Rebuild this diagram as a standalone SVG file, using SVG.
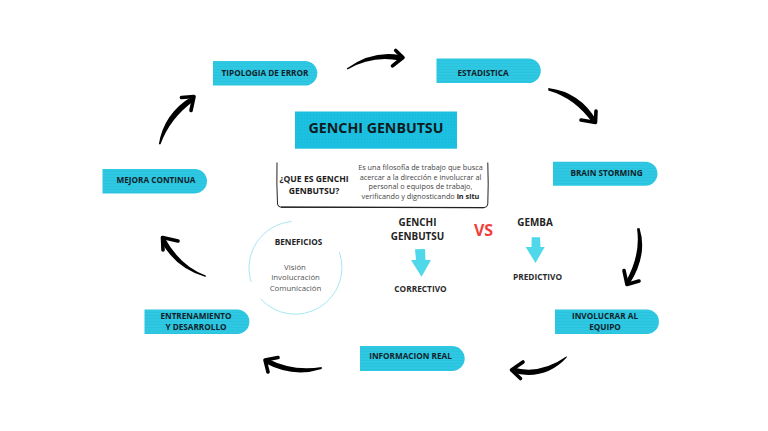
<svg xmlns="http://www.w3.org/2000/svg" width="768" height="431" viewBox="0 0 768 431">
<style>
text{font-family:"Open Sans","Liberation Sans",sans-serif;text-anchor:middle}
.lb{font-weight:700;font-size:8.2px;fill:#10222a}
.hd{font-weight:700;font-size:9.9px;fill:#222}
.sm{font-weight:700;font-size:8.3px;fill:#2a2a2a}
.bd{font-size:7.3px;fill:#444}
.bn{font-size:7.8px;fill:#555}
.pill{fill:url(#stripes)}
.sh{fill:#000}
.ah{fill:none;stroke:#000;stroke-width:3.6;stroke-linecap:round;stroke-linejoin:round}
.dn{fill:#4fd8ea}
</style>
<defs>
<pattern id="stripes" width="4" height="3" patternUnits="userSpaceOnUse"><rect width="4" height="3" fill="#2ec8e2"/><rect width="4" height="1" fill="#2ac2dc"/></pattern>
<pattern id="dots" width="3" height="3" patternUnits="userSpaceOnUse"><rect width="3" height="3" fill="#1cc0e0"/><circle cx="1.5" cy="1.5" r=".7" fill="#18b8d8"/></pattern>
</defs>
<rect width="768" height="431" fill="#fff"/>
<g id="connectors">
<path class="sh" d="M346.7 68.5Q372 50 400 55L400 60.5Q372 55 347.5 69.5Z"/><path class="ah" d="M395.7 50.5L403 57.5L392.5 65.8"/>
<path class="sh" d="M548.3 88Q580 92 596.5 120.5L593 123.5Q575 98 548.3 90.5Z"/><path class="ah" d="M596 111L595.5 122.5L581 120"/>
<path class="sh" d="M637 228.5L639.5 228Q648 255 629.5 284L625.5 282Q641 255 637 228.5Z"/><path class="ah" d="M624 270.5L627 284.5L639 281"/>
<path class="sh" d="M566.7 356.3Q540 375 513 367.5L512 372.8Q545 381 566.7 357.5Z"/><path class="ah" d="M523 362L511.5 370L520.5 378.5"/>
<path class="sh" d="M321.7 367Q293 372 266 358L265 363Q293 378 321.7 369Z"/><path class="ah" d="M278 357.5L265 360L268 372"/>
<path class="sh" d="M205.7 275.5Q180 266 164.5 237.5L161 241Q175 268 205.7 277Z"/><path class="ah" d="M178 241L162.5 237.5L163 250"/>
<path class="sh" d="M158.8 144.3Q164 113 192 96.5L194.5 100.5Q170 118 160.5 144.3Z"/><path class="ah" d="M181.5 97.5L194 96.5L191 110.5"/>
</g>
<g id="tipologia"><path class="pill" d="M213 61H305A12.3 12.3 0 0 1 305 85.6H213Z"/><text class="lb" x="265" y="75.8">TIPOLOGIA DE ERROR</text></g>
<g id="estadistica"><path class="pill" d="M436.5 58.5H528.5A12.3 12.3 0 0 1 528.5 83.1H436.5Z"/><text class="lb" x="483" y="75.6">ESTADISTICA</text></g>
<g id="brain"><path class="pill" d="M553 161.7H645.5A12 12 0 0 1 645.5 185.7H553Z"/><text class="lb" x="606.5" y="176.4">BRAIN STORMING</text></g>
<g id="involucrar"><path class="pill" d="M555 309.5H647.8A12.3 12.3 0 0 1 647.8 334H555Z"/><text class="lb" x="605" y="319.2">INVOLUCRAR AL</text><text class="lb" x="605" y="330">EQUIPO</text></g>
<g id="informacion"><path class="pill" d="M360 346H452.2A12.5 12.5 0 0 1 452.2 371H360Z"/><text class="lb" x="410.5" y="359.4">INFORMACION REAL</text></g>
<g id="entrenamiento"><path class="pill" d="M144.5 309.5H238.2A12.3 12.3 0 0 1 238.2 334H144.5Z"/><text class="lb" x="196" y="319">ENTRENAMIENTO</text><text class="lb" x="196" y="330">Y DESARROLLO</text></g>
<g id="mejora"><path class="pill" d="M102.5 169H194.8A12.2 12.2 0 0 1 194.8 193.4H102.5Z"/><text class="lb" x="156" y="183.2">MEJORA CONTINUA</text></g>
<g id="title"><rect x="295" y="111.5" width="162" height="37.2" fill="url(#dots)"/><text x="376" y="133" font-size="14.2" font-weight="700" fill="#0e1a20">GENCHI GENBUTSU</text></g>
<g id="definition">
<path d="M277 162.5Q276.5 185 277.5 204Q278 207 281 207.2L484 207.6Q487.5 207.5 487.8 204Q488.6 185 487.8 162.5" fill="none" stroke="#222" stroke-width="1"/>
<path d="M281 207.2L484 207.6" fill="none" stroke="#222" stroke-width="1.3"/>
<text x="314" y="181.5" font-size="8.6" font-weight="700" fill="#222">¿QUE ES GENCHI</text>
<text x="314" y="193.5" font-size="8.6" font-weight="700" fill="#222">GENBUTSU?</text>
<text class="bd" x="420.5" y="170.4">Es una filosofía de trabajo que busca</text>
<text class="bd" x="420.5" y="179.7">acercar a la dirección e involucrar al</text>
<text class="bd" x="420.5" y="189.2">personal o equipos de trabajo,</text>
<text class="bd" x="420.5" y="199.2">verificando y dignosticando <tspan font-weight="700" fill="#222">in situ</tspan></text>
</g>
<g id="beneficios">
<path d="M291.7 221.5A46.7 46.7 0 0 0 251.1 281.8M260.8 299A46.7 46.7 0 0 0 339.2 251.7" fill="none" stroke="#a6e8f2" stroke-width="1"/>
<text x="298.5" y="245.3" font-size="8.2" font-weight="700" fill="#222">BENEFICIOS</text>
<text class="bn" x="295" y="269.7">Visión</text>
<text class="bn" x="295.5" y="279.7">Involucración</text>
<text class="bn" x="295.5" y="290.5">Comunicación</text>
</g>
<g id="genchi">
<text class="hd" x="417.5" y="226">GENCHI</text><text class="hd" x="417.5" y="240">GENBUTSU</text>
<path class="dn" d="M415 249.3L425 249L425.5 260H431L421.5 276.7L411 260H416Z"/>
<text class="sm" x="420.5" y="291.5">CORRECTIVO</text>
</g>
<g id="vs"><text x="483.5" y="236" font-size="16" font-weight="700" fill="#f0403c">VS</text></g>
<g id="gemba">
<text class="hd" x="535" y="226">GEMBA</text>
<path class="dn" d="M531.7 237.3H540L540.5 247H544.7L535.5 263L525.7 247H531.5Z"/>
<text class="sm" x="537.5" y="279.6">PREDICTIVO</text>
</g>
</svg>
